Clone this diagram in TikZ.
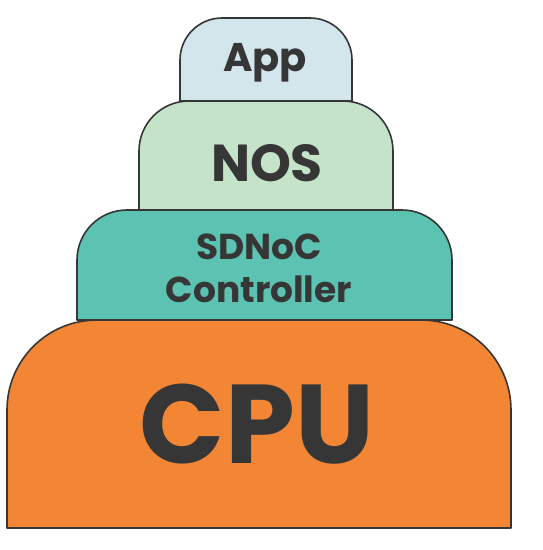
\documentclass[tikz,border=0pt]{standalone}
\usepackage{fontspec}
\setmainfont{Poppins}
\definecolor{appblue}{HTML}{D3E6EC}
\definecolor{nosgreen}{HTML}{C5E3C9}
\definecolor{ctrlteal}{HTML}{5CC2B2}
\definecolor{cpuorange}{HTML}{F28634}
\definecolor{inkgrey}{HTML}{363636}
\tikzset{
  layer/.style={draw=inkgrey, line width=1.6pt, line join=round},
  label/.style={text=inkgrey, font=\bfseries, align=center, inner sep=0pt}
}
\begin{document}
\begin{tikzpicture}[x=1pt,y=-1pt]
            \useasboundingbox (0,0) rectangle (543,550);
            % layers, bottom to top
            \filldraw[layer, fill=cpuorange] (7,528) [rounded corners=90pt]-- (7,320) -- (511,320) [sharp corners]-- (511,528) -- cycle;
            \filldraw[layer, fill=ctrlteal] (77,320) [rounded corners=50pt]-- (77,210) -- (452,210) [sharp corners]-- (452,320) -- cycle;
            \filldraw[layer, fill=nosgreen] (139,210) [rounded corners=50pt]-- (139,101) -- (393,101) [sharp corners]-- (393,210) -- cycle;
            \filldraw[layer, fill=appblue] (180,101) [rounded corners=42pt]-- (180,18) -- (352,18) [sharp corners]-- (352,101) -- cycle;
            % texts
            \node[label, font=\fontsize{40}{42}\selectfont\bfseries] (app) at (265,63) {App};
            \node[label, font=\fontsize{52}{54}\selectfont\bfseries] (nos) at (267,163) {NOS};
            \node[label, font=\fontsize{36}{43}\selectfont\bfseries] (ctrl) at (259,268) {SDNoC\\Controller};
            \node[label, font=\fontsize{112}{114}\selectfont\bfseries] (cpu) at (257,424) {CPU};
        \end{tikzpicture}
\end{document}
